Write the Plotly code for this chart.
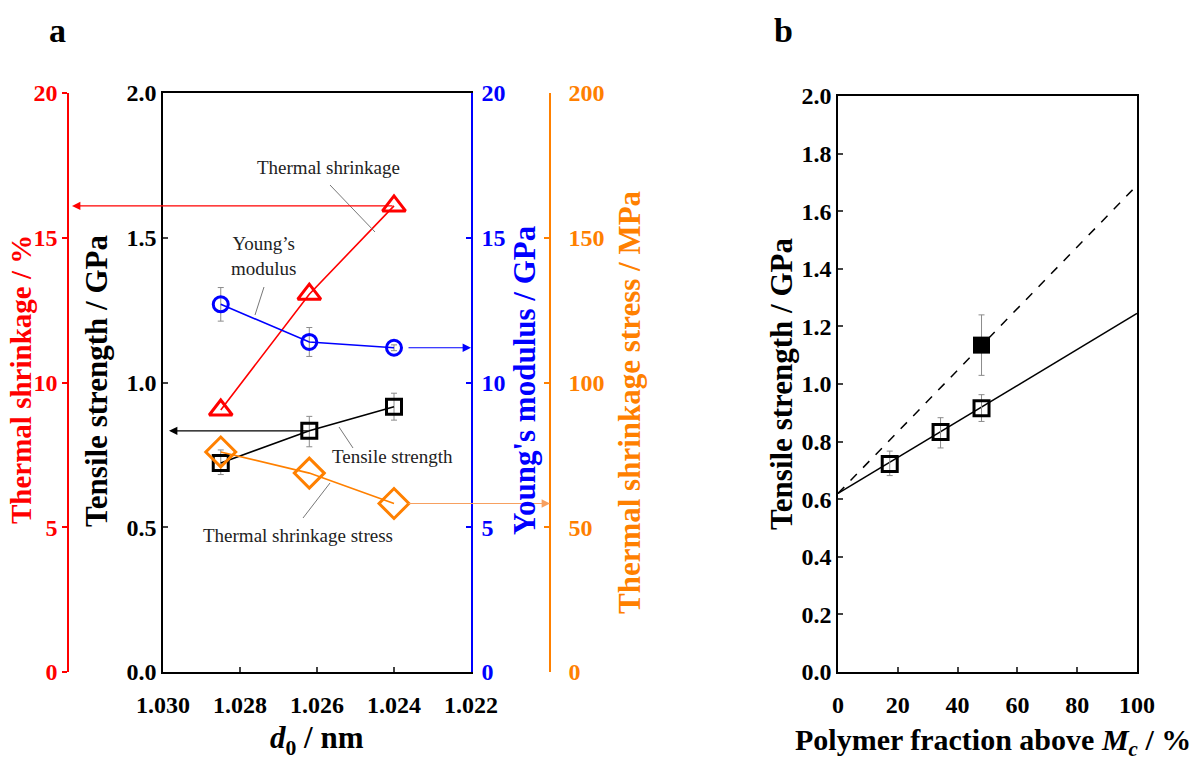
# Two-panel figure: (a) properties vs d0 with four y axes, (b) tensile strength vs polymer fraction

import plotly.graph_objects as go

# the page puts the figure 8 px in from the top-left corner of the window
OFF = 8
W, H = 1200 - OFF, 767 - OFF
FONT = "Liberation Serif"
RED, BLUE, ORANGE, GRAY = "#FF0000", "#0000FF", "#FF8000", "#8C8C8C"

# ---- panel a data ----
d0 = [1.0285, 1.0262, 1.0240]                 # nm
shrinkage = [9.05, 13.05, 16.1]               # %
youngs = [12.7, 11.4, 11.2]                   # GPa
youngs_err = [0.58, 0.5, 0.1]
tensile = [0.722, 0.833, 0.916]               # GPa
tensile_err_hi = [0.045, 0.05, 0.047]
tensile_err_lo = [0.04, 0.055, 0.046]
shrink_stress = [76.0, 68.7, 58.2]            # MPa

d0_ticks = [1.030, 1.028, 1.026, 1.024, 1.022]

# ---- panel b data ----
frac_open = [17.3, 34.3, 48.0]                # %
frac_filled = [48.0]
tensile_filled = [1.135]
filled_err = [0.105]
fit_x = [0, 100]
fit_solid = [0.62, 1.245]
fit_dashed = [0.62, 1.69]


# window pixel -> paper fraction
def px(x):
    return (x - OFF) / W


def py(y):
    return 1 - (y - OFF) / H


# pixel frame of the plots (window coordinates)
A_L, A_R, TOP, BOT = 163, 471, 93, 672
B_L, B_R, B_TOP = 838, 1137, 96


def d0_at(xpix):
    # d0 value at a horizontal pixel inside/around panel a (reversed axis)
    return 1.030 - (xpix - A_L) / (A_R - A_L) * 0.008


fig = go.Figure()

err_style = dict(type="data", color=GRAY, thickness=1, width=3)

# red: thermal shrinkage
fig.add_trace(go.Scatter(
    x=d0, y=shrinkage, yaxis="y2", mode="lines+markers",
    line=dict(color=RED, width=1.6),
    marker=dict(symbol="triangle-up-open", size=20, color=RED, line=dict(width=3)),
))
# blue: Young's modulus
fig.add_trace(go.Scatter(
    x=d0, y=youngs, yaxis="y3", mode="lines+markers",
    line=dict(color=BLUE, width=1.6),
    error_y=dict(array=youngs_err, **err_style),
    marker=dict(symbol="circle-open", size=15, color=BLUE, line=dict(width=3)),
))
# black: tensile strength
fig.add_trace(go.Scatter(
    x=d0, y=tensile, yaxis="y", mode="lines+markers",
    line=dict(color="black", width=1.6),
    error_y=dict(array=tensile_err_hi, arrayminus=tensile_err_lo, **err_style),
    marker=dict(symbol="square-open", size=15, color="black", line=dict(width=3)),
))
# orange: thermal shrinkage stress
fig.add_trace(go.Scatter(
    x=d0, y=shrink_stress, yaxis="y4", mode="lines+markers",
    line=dict(color=ORANGE, width=1.6),
    marker=dict(symbol="diamond-open", size=23, color=ORANGE, line=dict(width=3)),
))

# panel b
fig.add_trace(go.Scatter(
    x=fit_x, y=fit_solid, xaxis="x2", yaxis="y5", mode="lines",
    line=dict(color="black", width=1.5),
))
fig.add_trace(go.Scatter(
    x=fit_x, y=fit_dashed, xaxis="x2", yaxis="y5", mode="lines",
    line=dict(color="black", width=1.5, dash="dash"),
))
fig.add_trace(go.Scatter(
    x=frac_open, y=tensile, xaxis="x2", yaxis="y5", mode="markers",
    error_y=dict(array=tensile_err_hi, arrayminus=tensile_err_lo, **err_style),
    marker=dict(symbol="square-open", size=15, color="black", line=dict(width=3)),
))
fig.add_trace(go.Scatter(
    x=frac_filled, y=tensile_filled, xaxis="x2", yaxis="y5", mode="markers",
    error_y=dict(array=filled_err, **err_style),
    marker=dict(symbol="square", size=17, color="black"),
))

tick_font = dict(family=FONT, size=24, weight="bold")
common = dict(showgrid=False, zeroline=False, showline=True, linewidth=1.5,
              tickwidth=1.5, ticklen=5, automargin=False)

fig.update_layout(
    width=W, height=H, margin=dict(l=0, r=0, t=0, b=0, autoexpand=False),
    paper_bgcolor="white", plot_bgcolor="white", showlegend=False,
    font=dict(family=FONT, color="black"),
    xaxis=dict(domain=[px(A_L), px(A_R)], range=[1.030, 1.022], tickvals=d0_ticks,
               tickformat=".3f", ticks="inside", mirror=True, linecolor="black",
               ticklabelstandoff=10, tickfont=tick_font, **common),
    yaxis=dict(domain=[py(BOT), py(TOP)], range=[0, 2], dtick=0.5, tickformat=".1f",
               ticks="inside", linecolor="black", tickfont=tick_font, **common),
    yaxis2=dict(overlaying="y", anchor="free", position=px(68), side="left",
                range=[0, 20], dtick=5, ticks="outside", linecolor=RED, tickcolor=RED,
                tickfont=dict(tick_font, color=RED), **common),
    yaxis3=dict(overlaying="y", anchor="x", side="right", range=[0, 20], dtick=5,
                ticks="inside", linecolor=BLUE, tickcolor=BLUE, ticklabelstandoff=4,
                tickfont=dict(tick_font, color=BLUE), **common),
    yaxis4=dict(overlaying="y", anchor="free", position=px(550), side="right",
                range=[0, 200], dtick=50, ticks="inside", linecolor=ORANGE, tickcolor=ORANGE,
                ticklabelstandoff=13, tickfont=dict(tick_font, color=ORANGE), **common),
    xaxis2=dict(domain=[px(B_L), px(B_R)], range=[0, 100], dtick=20, anchor="y5",
                ticks="inside", mirror=True, linecolor="black", ticklabelstandoff=10,
                tickfont=tick_font, **common),
    yaxis5=dict(domain=[py(BOT), py(B_TOP)], range=[0, 2], dtick=0.2, tickformat=".1f",
                anchor="x2", ticks="inside", mirror=True, linecolor="black",
                tickfont=tick_font, **common),
)

# arrows from the last/middle points to their own axis
arrow = dict(text="", showarrow=True, arrowhead=2, arrowsize=1.4, arrowwidth=1.2,
             standoff=0, startstandoff=0, xref="x", axref="x")
fig.add_annotation(x=d0_at(72), y=shrinkage[2], ax=d0[2], ay=shrinkage[2],
                   yref="y2", ayref="y2", arrowcolor=RED, **arrow)
fig.add_annotation(x=d0_at(A_R), y=youngs[2], ax=d0_at(407), ay=youngs[2],
                   yref="y3", ayref="y3", arrowcolor=BLUE, **arrow)
fig.add_annotation(x=d0_at(169), y=tensile[1], ax=d0[1], ay=tensile[1],
                   yref="y", ayref="y", arrowcolor="black", **arrow)
fig.add_annotation(x=d0_at(550), y=shrink_stress[2], ax=d0_at(407), ay=shrink_stress[2],
                   yref="y4", ayref="y4", arrowcolor="#F7A060", **arrow)

centered = dict(xref="paper", yref="paper", showarrow=False,
                xanchor="center", yanchor="middle")

# series labels with leader lines
labels = [
    ("Thermal shrinkage", 328, 168, (330, 185, 375, 232)),
    ("Young’s<br>modulus", 263, 256, (264, 287, 255, 315)),
    ("Tensile strength", 392, 457, (339, 427, 353, 448)),
    ("Thermal shrinkage stress", 298, 535, (330, 483, 303, 518)),
]
for text, cx, cy, (x0, y0, x1, y1) in labels:
    fig.add_annotation(text=text, x=px(cx), y=py(cy), font=dict(family=FONT, size=19, color="#222222"),
                       **centered)
    fig.add_shape(type="line", xref="paper", yref="paper",
                  x0=px(x0), y0=py(y0), x1=px(x1), y1=py(y1),
                  line=dict(color="#777777", width=1))

# axis titles
titles = [
    ("Thermal shrinkage / %", 21, 380, -90, RED, 29),
    ("Tensile strength / GPa", 96, 381, -90, "black", 31),
    ("Young's modulus / GPa", 524, 380, -90, BLUE, 31),
    ("Thermal shrinkage stress / MPa", 629, 402, -90, ORANGE, 31),
    ("Tensile strength / GPa", 781, 384, -90, "black", 31),
    ("<i>d</i><sub>0</sub> / nm", 317, 740, 0, "black", 31),
    ("Polymer fraction above <i>M<sub>c</sub></i> / %", 993, 742, 0, "black", 30),
]
for text, cx, cy, ang, col, size in titles:
    fig.add_annotation(text=text, x=px(cx), y=py(cy), textangle=ang,
                       font=dict(family=FONT, size=size, weight="bold", color=col), **centered)

# panel letters
for letter, cx in (("a", 57), ("b", 783)):
    fig.add_annotation(text=letter, x=px(cx), y=py(30),
                       font=dict(family=FONT, size=34, weight="bold"), **centered)

fig.write_html("out.html")
